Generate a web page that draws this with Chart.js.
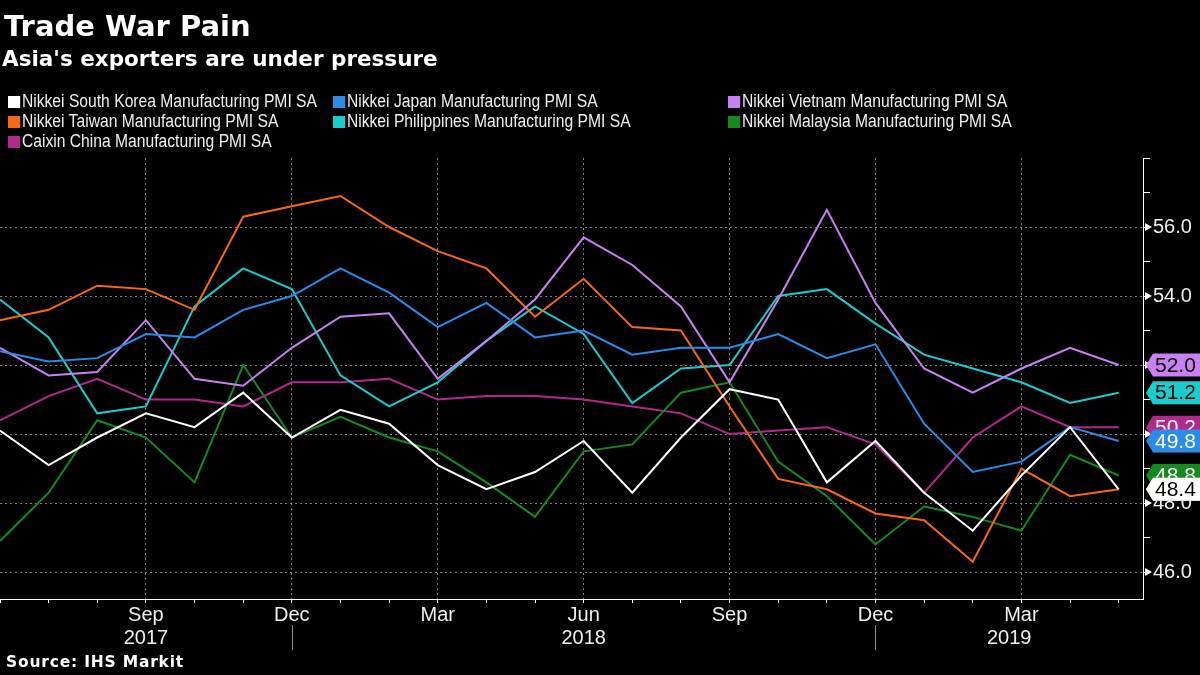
<!DOCTYPE html>
<html>
<head>
<meta charset="utf-8">
<script src="https://cdn.jsdelivr.net/npm/chart.js@4/dist/chart.umd.min.js"></script>
<style>
  body { margin: 0; background: #000; width: 1200px; height: 675px; overflow: hidden; position: relative; }
  #chart { position: absolute; left: 0; top: 0; }
  .txt { position: absolute; color: #fff; white-space: nowrap; }
  #title { left: 4px; top: 12px; font: bold 29px/29px "DejaVu Sans", sans-serif; }
  #subtitle { left: 2px; top: 48px; font: bold 21.5px/22px "DejaVu Sans", sans-serif; }
  #source { left: 6px; top: 654px; font: bold 15.5px/16px "DejaVu Sans", sans-serif; letter-spacing: 0.8px; }
  .leg { position: absolute; color: #eee; white-space: nowrap; font: 18px/20px "Liberation Sans", sans-serif;
         transform: scaleX(0.87); transform-origin: 0 0; }
  .leg span { display: inline-block; width: 14px; height: 12px; margin-right: 2px; vertical-align: -1px; }
</style>
</head>
<body>
<canvas id="chart" width="1200" height="675"></canvas>
<div class="txt" id="title">Trade War Pain</div>
<div class="txt" id="subtitle">Asia's exporters are under pressure</div>
<div class="txt" id="source">Source: IHS Markit</div>
<div id="legend"></div>
<script>
// monthly, Jun 2017 .. May 2019
var months = ["Jun 17","Jul 17","Aug 17","Sep 17","Oct 17","Nov 17","Dec 17","Jan 18","Feb 18","Mar 18","Apr 18","May 18",
  "Jun 18","Jul 18","Aug 18","Sep 18","Oct 18","Nov 18","Dec 18","Jan 19","Feb 19","Mar 19","Apr 19","May 19"];

var korea       = [50.1,49.1,49.9,50.6,50.2,51.2,49.9,50.7,50.3,49.1,48.4,48.9,49.8,48.3,49.9,51.3,51.0,48.6,49.8,48.3,47.2,48.8,50.2,48.4];
var japan       = [52.4,52.1,52.2,52.9,52.8,53.6,54.0,54.8,54.1,53.1,53.8,52.8,53.0,52.3,52.5,52.5,52.9,52.2,52.6,50.3,48.9,49.2,50.2,49.8];
var vietnam     = [52.5,51.7,51.8,53.3,51.6,51.4,52.5,53.4,53.5,51.6,52.7,53.9,55.7,54.9,53.7,51.5,53.9,56.5,53.8,51.9,51.2,51.9,52.5,52.0];
var taiwan      = [53.3,53.6,54.3,54.2,53.6,56.3,56.6,56.9,56.0,55.3,54.8,53.4,54.5,53.1,53.0,50.8,48.7,48.4,47.7,47.5,46.3,49.0,48.2,48.4];
var philippines = [53.9,52.8,50.6,50.8,53.7,54.8,54.2,51.7,50.8,51.5,52.7,53.7,52.9,50.9,51.9,52.0,54.0,54.2,53.2,52.3,51.9,51.5,50.9,51.2];
var malaysia    = [46.9,48.3,50.4,49.9,48.6,52.0,49.9,50.5,49.9,49.5,48.6,47.6,49.5,49.7,51.2,51.5,49.2,48.2,46.8,47.9,47.6,47.2,49.4,48.8];
var china       = [50.4,51.1,51.6,51.0,51.0,50.8,51.5,51.5,51.6,51.0,51.1,51.1,51.0,50.8,50.6,50.0,50.1,50.2,49.7,48.3,49.9,50.8,50.2,50.2];

var seriesNames = [
  "Nikkei South Korea Manufacturing PMI SA",
  "Nikkei Japan Manufacturing PMI SA",
  "Nikkei Vietnam Manufacturing PMI SA",
  "Nikkei Taiwan Manufacturing PMI SA",
  "Nikkei Philippines Manufacturing PMI SA",
  "Nikkei Malaysia Manufacturing PMI SA",
  "Caixin China Manufacturing PMI SA"
];
var seriesValues = [korea, japan, vietnam, taiwan, philippines, malaysia, china];
var seriesColors = ["#ffffff", "#2b8ce8", "#c880f2", "#f76a12", "#1ccccc", "#158a1e", "#b02a8e"];
var tagTextColors = ["#000", "#fff", "#000", "#000", "#000", "#fff", "#fff"];

// x axis labels
var tickIdx = [3, 6, 9, 12, 15, 18, 21];
var tickMonths = ["Sep", "Dec", "Mar", "Jun", "Sep", "Dec", "Mar"];
var yearLabels = ["2017", "2018", "2019"];
var yearBreaks = [6, 18]; // Dec 2017, Dec 2018

var FONT = "Liberation Sans";

// legend (html, 3 columns)
var legCols = [8, 333, 728];
var legend = document.getElementById("legend");
seriesNames.forEach(function (name, i) {
  var d = document.createElement("div");
  d.className = "leg";
  d.style.left = legCols[i % 3] + "px";
  d.style.top = (91 + Math.floor(i / 3) * 20) + "px";
  d.innerHTML = '<span style="background:' + seriesColors[i] + '"></span>' + name;
  legend.appendChild(d);
});

var extras = {
  id: "extras",
  afterDraw: function (chart) {
    var ctx = chart.ctx, x = chart.scales.x, y = chart.scales.y;
    ctx.save();

    // year separators below the axis
    ctx.strokeStyle = "#8c8c8c";
    ctx.lineWidth = 1;
    yearBreaks.forEach(function (i) {
      var px = Math.round(x.getPixelForValue(i)) + 0.5;
      ctx.beginPath();
      ctx.moveTo(px, x.top + 26);
      ctx.lineTo(px, x.top + 51);
      ctx.stroke();
    });

    // year labels centred in their span
    var bounds = [x.left].concat(yearBreaks.map(function (i) { return x.getPixelForValue(i); }), [x.right]);
    ctx.fillStyle = "#eee";
    ctx.font = "20px " + FONT;
    ctx.textAlign = "center";
    ctx.textBaseline = "middle";
    yearLabels.forEach(function (lab, k) {
      ctx.fillText(lab, (bounds[k] + bounds[k + 1]) / 2, x.top + 39);
    });

    // small arrows at labelled y ticks
    ctx.fillStyle = "#fff";
    for (var v = 46; v <= 56; v += 2) {
      var py = y.getPixelForValue(v);
      ctx.beginPath();
      ctx.moveTo(y.left + 2, py - 4);
      ctx.lineTo(y.left + 9, py);
      ctx.lineTo(y.left + 2, py + 4);
      ctx.closePath();
      ctx.fill();
    }

    // last value tags, drawn bottom series first
    ctx.font = "21px " + FONT;
    ctx.textAlign = "left";
    for (var s = seriesValues.length - 1; s >= 0; s--) {
      var vals = seriesValues[s];
      var last = vals[vals.length - 1];
      var ty = y.getPixelForValue(last);
      var x0 = y.left + 3, x1 = y.left + 10, h = 11.5;
      ctx.fillStyle = seriesColors[s];
      ctx.beginPath();
      ctx.moveTo(x0, ty);
      ctx.lineTo(x1, ty - h);
      ctx.lineTo(chart.width + 5, ty - h);
      ctx.lineTo(chart.width + 5, ty + h);
      ctx.lineTo(x1, ty + h);
      ctx.closePath();
      ctx.fill();
      ctx.fillStyle = tagTextColors[s];
      ctx.fillText(last.toFixed(1), x1 + 2, ty + 1);
    }
    ctx.restore();
  }
};

var datasets = seriesNames.map(function (name, i) {
  return {
    label: name,
    data: seriesValues[i].map(function (v, j) { return { x: j, y: v }; }),
    borderColor: seriesColors[i],
    borderWidth: 2,
    pointRadius: 0,
    tension: 0,
    fill: false
  };
});
// draw order: first series on top
datasets.forEach(function (d, i) { d.order = i; });

var ctx = document.getElementById("chart").getContext("2d");
var myChart = new Chart(ctx, {
  type: "line",
  data: { datasets: datasets },
  options: {
    responsive: false,
    animation: false,
    devicePixelRatio: 1,
    layout: { padding: { top: 158, left: 0, right: 0, bottom: 0 } },
    plugins: { legend: { display: false }, tooltip: { enabled: false } },
    scales: {
      x: {
        type: "linear",
        min: 0,
        max: 23.5,
        afterFit: function (scale) { scale.height = 76; },
        border: { color: "#fff", width: 1, dash: [2, 3] },
        grid: {
          color: function (c) {
            return tickIdx.indexOf(c.tick && c.tick.value) >= 0 ? "rgba(170,170,170,0.75)" : "rgba(0,0,0,0)";
          },
          lineWidth: 1,
          tickColor: "#fff",
          tickLength: 4
        },
        ticks: {
          stepSize: 1,
          includeBounds: false,
          autoSkip: false,
          maxRotation: 0,
          padding: 0,
          color: "#eee",
          font: { family: FONT, size: 20 },
          callback: function (v) {
            var k = tickIdx.indexOf(v);
            return k >= 0 ? tickMonths[k] : "";
          }
        }
      },
      y: {
        position: "right",
        min: 45.22,
        max: 58,
        afterFit: function (scale) { scale.width = 57; },
        border: { color: "#fff", width: 1, dash: [2, 3] },
        grid: {
          color: function (c) {
            var v = c.tick && c.tick.value;
            return (v >= 46 && v <= 56 && v % 2 === 0) ? "rgba(170,170,170,0.75)" : "rgba(0,0,0,0)";
          },
          lineWidth: 1,
          tickColor: "#fff",
          tickLength: 7
        },
        ticks: {
          stepSize: 1,
          includeBounds: false,
          padding: 3,
          color: "#eee",
          font: { family: FONT, size: 20 },
          callback: function (v) {
            return (v >= 46 && v <= 56 && v % 2 === 0) ? v.toFixed(1) : "";
          }
        }
      }
    }
  },
  plugins: [extras]
});
</script>
</body>
</html>
